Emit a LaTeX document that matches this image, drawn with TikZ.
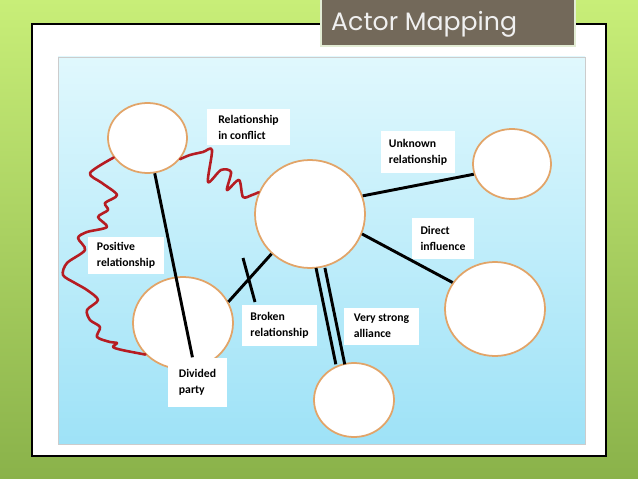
\documentclass[tikz,border=0pt]{standalone}
\usepackage{fontspec}
\setmainfont{Carlito}
\newfontfamily\titlefont{Poppins}
\usetikzlibrary{shapes.geometric}
\definecolor{leafhi}{RGB}{200,238,120}
\definecolor{leaflo}{RGB}{138,178,74}
\definecolor{skyhi}{RGB}{224,248,253}
\definecolor{skylo}{RGB}{158,226,247}
\definecolor{rimtan}{RGB}{226,164,104}
\definecolor{wavered}{RGB}{182,28,34}
\definecolor{titlebg}{RGB}{115,105,90}
\definecolor{titlerim}{RGB}{226,236,212}
\begin{document}
\begin{tikzpicture}[x=.03cm,y=-.03cm,
 actor/.style 2 args={ellipse,draw=rimtan,line width=1.5pt,fill=white,inner sep=0pt,minimum width=#1*.03cm,minimum height=#2*.03cm},
 tag/.style 2 args={fill=white,align=left,inner sep=0pt,minimum width=#1*.03cm,minimum height=#2*.03cm,font=\bfseries\fontsize{10}{13.6}\selectfont},
 tie/.style={line width=2.5pt},
 wave/.style={draw=wavered,line width=2.2pt,line join=round,line cap=round}]
\useasboundingbox (0,0) rectangle (638,479);
% slide
\shade[top color=leafhi,bottom color=leaflo] (0,0) rectangle (638,479);
\draw[fill=white,line width=.9pt] (32,24) rectangle (606,456);
\shade[top color=skyhi,bottom color=skylo,draw=gray!40] (58,57) rectangle (585,444);
\draw[fill=titlebg,draw=titlerim,line width=2pt] (321,-5) rectangle (575,46);
\node[anchor=base west,text=white!94!black,inner sep=0pt,font=\titlefont\fontsize{21.5}{21.5}\selectfont] (title) at (331,31) {Actor Mapping};
% actors
\path (147.5,138) node[actor={79}{70}] (tl) {} (310,214) node[actor={110}{108}] (c) {}
 (183,323) node[actor={100}{92}] (bl) {} (512,164) node[actor={78}{70}] (tr) {}
 (495,309) node[actor={100}{94}] (br) {} (354,400) node[actor={80}{74}] (b) {};
% labels
\path (248.5,127) node[tag={83}{35}] (conflict) {Relationship\\in conflict}
 (418,152) node[tag={74}{42}] (unknown) {Unknown\\relationship}
 (443,238.5) node[tag={62}{41}] (direct) {Direct\\influence}
 (126,255) node[tag={76}{37}] (positive) {Positive\\relationship}
 (279.5,325) node[tag={75}{41}] (broken) {Broken\\relationship}
 (381.5,326) node[tag={75}{37}] (alliance) {Very strong\\alliance}
 (197.5,382) node[tag={59}{49}] (divided) {Divided\\party};
% ties
\draw[tie] (tl) -- (divided);
\foreach \d/\dd in {bl.25/c.226, c.19/tr.195, c.339/br.148} \draw[tie] (\d) -- (\dd);
\foreach \s in {-3.8,3.8} \draw[tie] ([xshift=\s pt]c.281) -- ([xshift=\s pt]b.111);
\coordinate (k1) at (243,258); \coordinate (k2) at (255,302);
\draw[tie] (k1) -- (k2);
\draw[wave] plot[smooth,tension=.5] coordinates {(tl.210) (90,173) (102,183) (117,195) (105,203) (108,210) (98,217) (107,227) (87,232) (78,238) (85,250) (67,263) (63,275) (75,283) (87,290) (98,300) (87,310) (90,320) (100,327) (97,337) (110,342) (117,343) (113,347) (122,350) (bl.220)};
\draw[wave] plot[smooth,tension=.5] coordinates {(tl.327) (190,155) (203,152) (212,150) (208,182) (221,170) (231,172) (227,190) (239,180) (243,197) (252,195) (c.157)};
\end{tikzpicture}
\end{document}
